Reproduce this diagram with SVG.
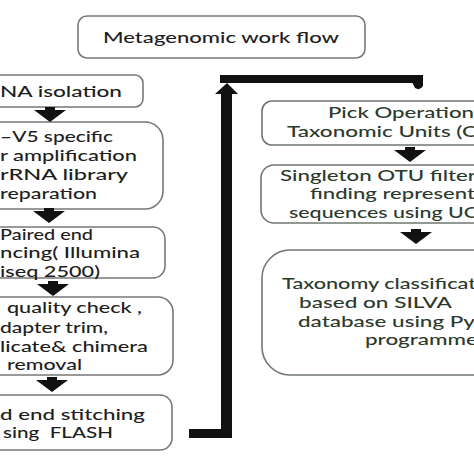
<svg xmlns="http://www.w3.org/2000/svg" width="474" height="474" viewBox="0 0 474 474">
<style>
.box{fill:#ffffff;stroke:#787878;stroke-width:1.6}
.rbox{fill:#ffffff;stroke:#6f786f;stroke-width:1.6}
.t{font-family:"Lato","DejaVu Sans",sans-serif;font-size:15px;fill:#1e1e1e;font-weight:500}
.rt{font-family:"Lato","DejaVu Sans",sans-serif;font-size:15px;fill:#2c3a2c;font-weight:500}
.arr{fill:#111111}
</style>
<defs>
<path id="down" d="M-5,0 L5,0 L5,3 L16,3 L0,15 L-16,3 L-5,3 Z"/>
</defs>
<rect width="474" height="474" fill="#ffffff"/>

<g id="title">
<rect class="box" x="78" y="16" width="287" height="42" rx="9"/>
<text class="t" x="103" y="43" textLength="236" lengthAdjust="spacingAndGlyphs" style="font-size:16px">Metagenomic work flow</text>
</g>

<g id="dna-isolation">
<rect class="box" x="-60" y="75" width="203" height="32" rx="8"/>
<text class="t" x="0" y="97" textLength="122" lengthAdjust="spacingAndGlyphs">NA isolation</text>
</g>

<g id="pcr-amplification">
<rect class="box" x="-60" y="122" width="223" height="87" rx="18"/>
<text class="t" x="0" y="142" textLength="113" lengthAdjust="spacingAndGlyphs">–V5 specific</text>
<text class="t" x="0" y="161" textLength="137" lengthAdjust="spacingAndGlyphs">r amplification</text>
<text class="t" x="0" y="180" textLength="128" lengthAdjust="spacingAndGlyphs">rRNA library</text>
<text class="t" x="0" y="199" textLength="97" lengthAdjust="spacingAndGlyphs">reparation</text>
</g>

<g id="sequencing">
<rect class="box" x="-60" y="227" width="225" height="51" rx="12"/>
<text class="t" x="0" y="240" textLength="93" lengthAdjust="spacingAndGlyphs">Paired end</text>
<text class="t" x="0" y="258" textLength="140" lengthAdjust="spacingAndGlyphs">ncing( Illumina</text>
<text class="t" x="0" y="277" textLength="100" lengthAdjust="spacingAndGlyphs">iseq 2500)</text>
</g>

<g id="quality-check">
<rect class="box" x="-60" y="297" width="233" height="78" rx="15"/>
<text class="t" x="7" y="313" textLength="135" lengthAdjust="spacingAndGlyphs">quality check ,</text>
<text class="t" x="0" y="333" textLength="108" lengthAdjust="spacingAndGlyphs">dapter trim,</text>
<text class="t" x="0" y="352" textLength="148" lengthAdjust="spacingAndGlyphs">licate&amp; chimera</text>
<text class="t" x="7" y="370" textLength="75" lengthAdjust="spacingAndGlyphs">removal</text>
</g>

<g id="stitching">
<rect class="box" x="-60" y="395" width="232" height="55" rx="12"/>
<text class="t" x="0" y="420" textLength="145" lengthAdjust="spacingAndGlyphs">d end stitching</text>
<text class="t" x="3" y="438" textLength="110" lengthAdjust="spacingAndGlyphs">sing&#160; FLASH</text>
</g>

<g id="pick-otu">
<rect class="rbox" x="262" y="101" width="260" height="44" rx="10"/>
<text class="rt" x="328" y="118" textLength="146" lengthAdjust="spacingAndGlyphs">Pick Operation</text>
<text class="rt" x="287" y="137" textLength="193" lengthAdjust="spacingAndGlyphs">Taxonomic Units (O</text>
</g>

<g id="singleton">
<rect class="rbox" x="261" y="165" width="260" height="58" rx="13"/>
<text class="rt" x="280" y="181" textLength="196" lengthAdjust="spacingAndGlyphs">Singleton OTU filter</text>
<text class="rt" x="310" y="199" textLength="165" lengthAdjust="spacingAndGlyphs">finding represent</text>
<text class="rt" x="289" y="218" textLength="189" lengthAdjust="spacingAndGlyphs">sequences using UC</text>
</g>

<g id="taxonomy">
<rect class="rbox" x="262" y="250" width="260" height="125" rx="28"/>
<text class="rt" x="282" y="289" textLength="194" lengthAdjust="spacingAndGlyphs">Taxonomy classificat</text>
<text class="rt" x="299" y="308" textLength="153" lengthAdjust="spacingAndGlyphs">based on SILVA</text>
<text class="rt" x="298" y="327" textLength="177" lengthAdjust="spacingAndGlyphs">database using Py</text>
<text class="rt" x="365" y="345" textLength="113" lengthAdjust="spacingAndGlyphs">programme</text>
</g>

<g id="connectors">
<use href="#down" class="arr" x="50" y="107"/>
<use href="#down" class="arr" x="49" y="208"/>
<use href="#down" class="arr" x="53" y="281"/>
<use href="#down" class="arr" x="52" y="377"/>
<use href="#down" class="arr" x="410" y="147"/>
<use href="#down" class="arr" x="416" y="229"/>
<rect class="arr" x="189" y="429" width="43" height="9"/>
<rect class="arr" x="221" y="93" width="11" height="345"/>
<polygon class="arr" points="215,94 227,83 238,94"/>
<rect class="arr" x="220" y="75" width="203" height="8"/>
<path class="arr" d="M412,82 L423,82 L423,86 Q420,91 415,88 Z"/>
</g>
</svg>
